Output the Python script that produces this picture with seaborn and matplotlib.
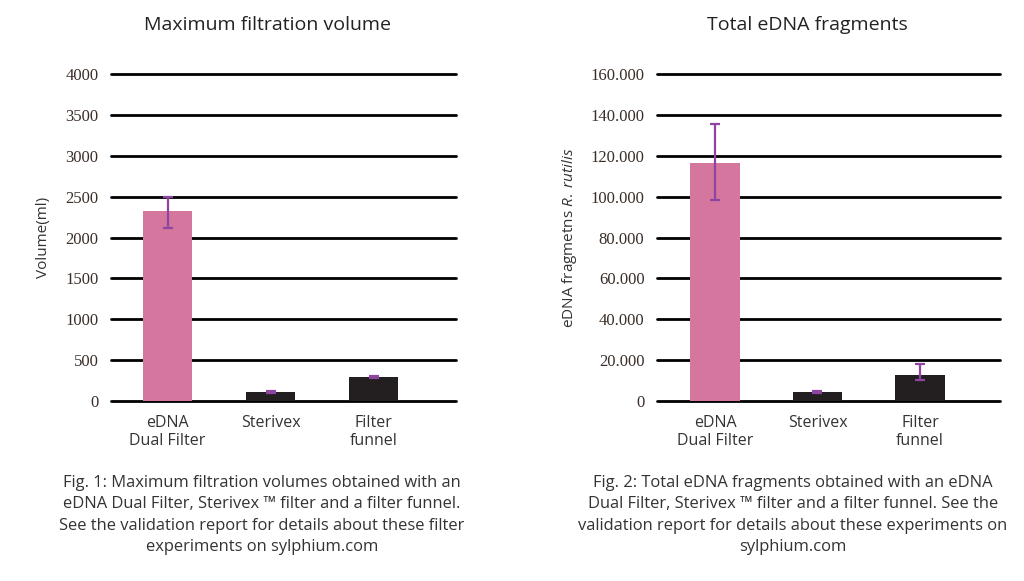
import numpy as np
import pandas as pd
import matplotlib
matplotlib.use("Agg")
import matplotlib.pyplot as plt
import seaborn as sns

# Data
categories = ["eDNA\nDual Filter", "Sterivex", "Filter\nfunnel"]

volume = [2320, 110, 290]
volume_err_low = [200, 12, 8]
volume_err_high = [180, 15, 10]

fragments = [116700, 4400, 12500]
fragments_err_low = [18300, 300, 2400]
fragments_err_high = [18900, 300, 5400]

vol_ticks = [0, 500, 1000, 1500, 2000, 2500, 3000, 3500, 4000]
frag_ticks = [0, 20000, 40000, 60000, 80000, 100000, 120000, 140000, 160000]
frag_ticklabels = ["0", "20.000", "40.000", "60.000", "80.000", "100.000",
                   "120.000", "140.000", "160.000"]

caption1 = ("Fig. 1: Maximum filtration volumes obtained with an\n"
            "eDNA Dual Filter, Sterivex \u2122 filter and a filter funnel.\n"
            "See the validation report for details about these filter\n"
            "experiments on sylphium.com")
caption2 = ("Fig. 2: Total eDNA fragments obtained with an eDNA\n"
            "Dual Filter, Sterivex \u2122 filter and a filter funnel. See the\n"
            "validation report for details about these experiments on\n"
            "sylphium.com")

bar_colors = ["#d4769e", "#231f20", "#231f20"]
err_color = "#8e44a0"

sns.set_theme(style="white")
plt.rcParams['font.family'] = ['Open Sans', 'DejaVu Sans']
plt.rcParams['mathtext.fontset'] = 'custom'
plt.rcParams['mathtext.it'] = 'Open Sans:italic'
plt.rcParams['mathtext.rm'] = 'Open Sans'

fig = plt.figure(figsize=(10.24, 5.81), dpi=100)
ax1 = fig.add_axes([0.1084, 0.3098, 0.3369, 0.5628])
ax2 = fig.add_axes([0.6416, 0.3098, 0.3350, 0.5628])


def draw_panel(ax, values, err_low, err_high, ticks, ticklabels, ymax, xlim):
    df = pd.DataFrame({"cat": categories, "val": values})
    sns.barplot(data=df, x="cat", y="val", hue="cat", palette=bar_colors,
                legend=False, width=0.48, saturation=1, linewidth=0,
                ax=ax, zorder=3)
    ax.errorbar(np.arange(len(values)), values, yerr=[err_low, err_high],
                fmt="none", ecolor=err_color, elinewidth=1.6, capsize=3.8,
                capthick=1.6, zorder=4)
    for t in ticks:
        ax.axhline(t, color="black", lw=2, zorder=1, clip_on=False)
    ax.set_ylim(0, ymax)
    ax.set_xlim(*xlim)
    ax.set_yticks(ticks)
    ax.set_yticklabels(ticklabels, family="Liberation Serif", fontsize=12,
                       color="#3a2e28")
    ax.tick_params(axis="y", length=0, pad=9)
    ax.tick_params(axis="x", length=0, pad=10, labelsize=11.5,
                   labelcolor="#333333")
    ax.set_xlabel("")
    for s in ax.spines.values():
        s.set_visible(False)


draw_panel(ax1, volume, volume_err_low, volume_err_high, vol_ticks,
           [str(t) for t in vol_ticks], 4000, (-0.55, 2.80))
draw_panel(ax2, fragments, fragments_err_low, fragments_err_high, frag_ticks,
           frag_ticklabels, 160000, (-0.565, 2.78))

ax1.set_ylabel("Volume(ml)", fontsize=11, color="#333333", labelpad=10)
ax2.set_ylabel(r"eDNA fragmetns $R.$ $rutilis$", fontsize=11, color="#333333",
               labelpad=8)

fig.text(267 / 1024, 1 - 25 / 581, "Maximum filtration volume", ha="center",
         va="center", fontsize=14, color="#222222")
fig.text(807 / 1024, 1 - 25 / 581, "Total eDNA fragments", ha="center",
         va="center", fontsize=14, color="#222222")

fig.text(262 / 1024, 1 - 515 / 581, caption1, ha="center", va="center",
         fontsize=11.9, color="#333333", linespacing=1.42)
fig.text(793 / 1024, 1 - 515 / 581, caption2, ha="center", va="center",
         fontsize=11.9, color="#333333", linespacing=1.42)

fig.savefig("out.png", dpi=100, facecolor="white")
